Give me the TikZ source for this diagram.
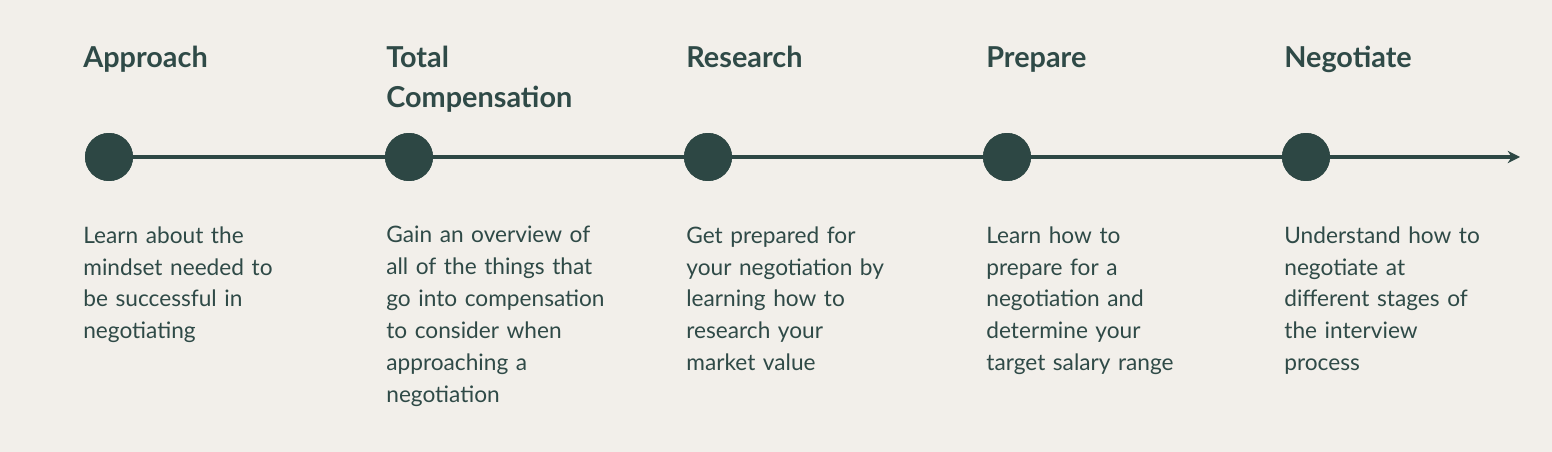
\documentclass[tikz,border=0pt]{standalone}
\usepackage{fontspec}
\setmainfont{Lato}
\usetikzlibrary{arrows.meta}
\definecolor{bg}{HTML}{F2EFEA}
\definecolor{dk}{HTML}{2D4744}
\definecolor{tx}{HTML}{2F4A47}
\tikzset{
 x=0.02cm,y=-0.02cm,
 dot/.style={circle,fill=dk,minimum size=0.96cm,inner sep=0},
 head/.style={anchor=north west,inner sep=0,text width=5.5cm,align=left,font=\fontsize{16.4}{22.7}\selectfont\bfseries,text=tx},
 body/.style={anchor=north west,inner sep=0,text width=5.5cm,align=left,font=\fontsize{12.9}{18.2}\selectfont,text=tx},
}
\begin{document}
\begin{tikzpicture}
\fill[bg] (0,0) rectangle (1552,452);
\useasboundingbox (0,0) rectangle (1552,452);
\coordinate (end) at (1520,157);
\foreach \n/\x in {a/109,b/409,c/708,d/1007,e/1306}{\node[dot] (\n) at (\x,157) {};}
\draw[dk,line width=2.2pt,-{Stealth[length=7pt,width=7pt]}] (a.center) -- (end);
\foreach \n/\x in {a/109,b/409,c/708,d/1007,e/1306}{\node[dot] at (\x,157) {};}
\node[head] (h1) at (83,46) {Approach};
\node[head] (h2) at (386,46) {Total\\Compensation};
\node[head] (h3) at (686,46) {Research};
\node[head] (h4) at (986,46) {Prepare};
\node[head] (h5) at (1284,46) {Negotiate};
\node[body] (t1) at (83,226) {Learn about the\\mindset needed to\\be successful in\\negotiating};
\node[body] (t2) at (386,226) {Gain an overview of\\all of the things that\\go into compensation\\to consider when\\approaching a\\negotiation};
\node[body] (t3) at (686,226) {Get prepared for\\your negotiation by\\learning how to\\research your\\market value};
\node[body] (t4) at (986,226) {Learn how to\\prepare for a\\negotiation and\\determine your\\target salary range};
\node[body] (t5) at (1284,226) {Understand how to\\negotiate at\\different stages of\\the interview\\process};
\end{tikzpicture}
\end{document}
